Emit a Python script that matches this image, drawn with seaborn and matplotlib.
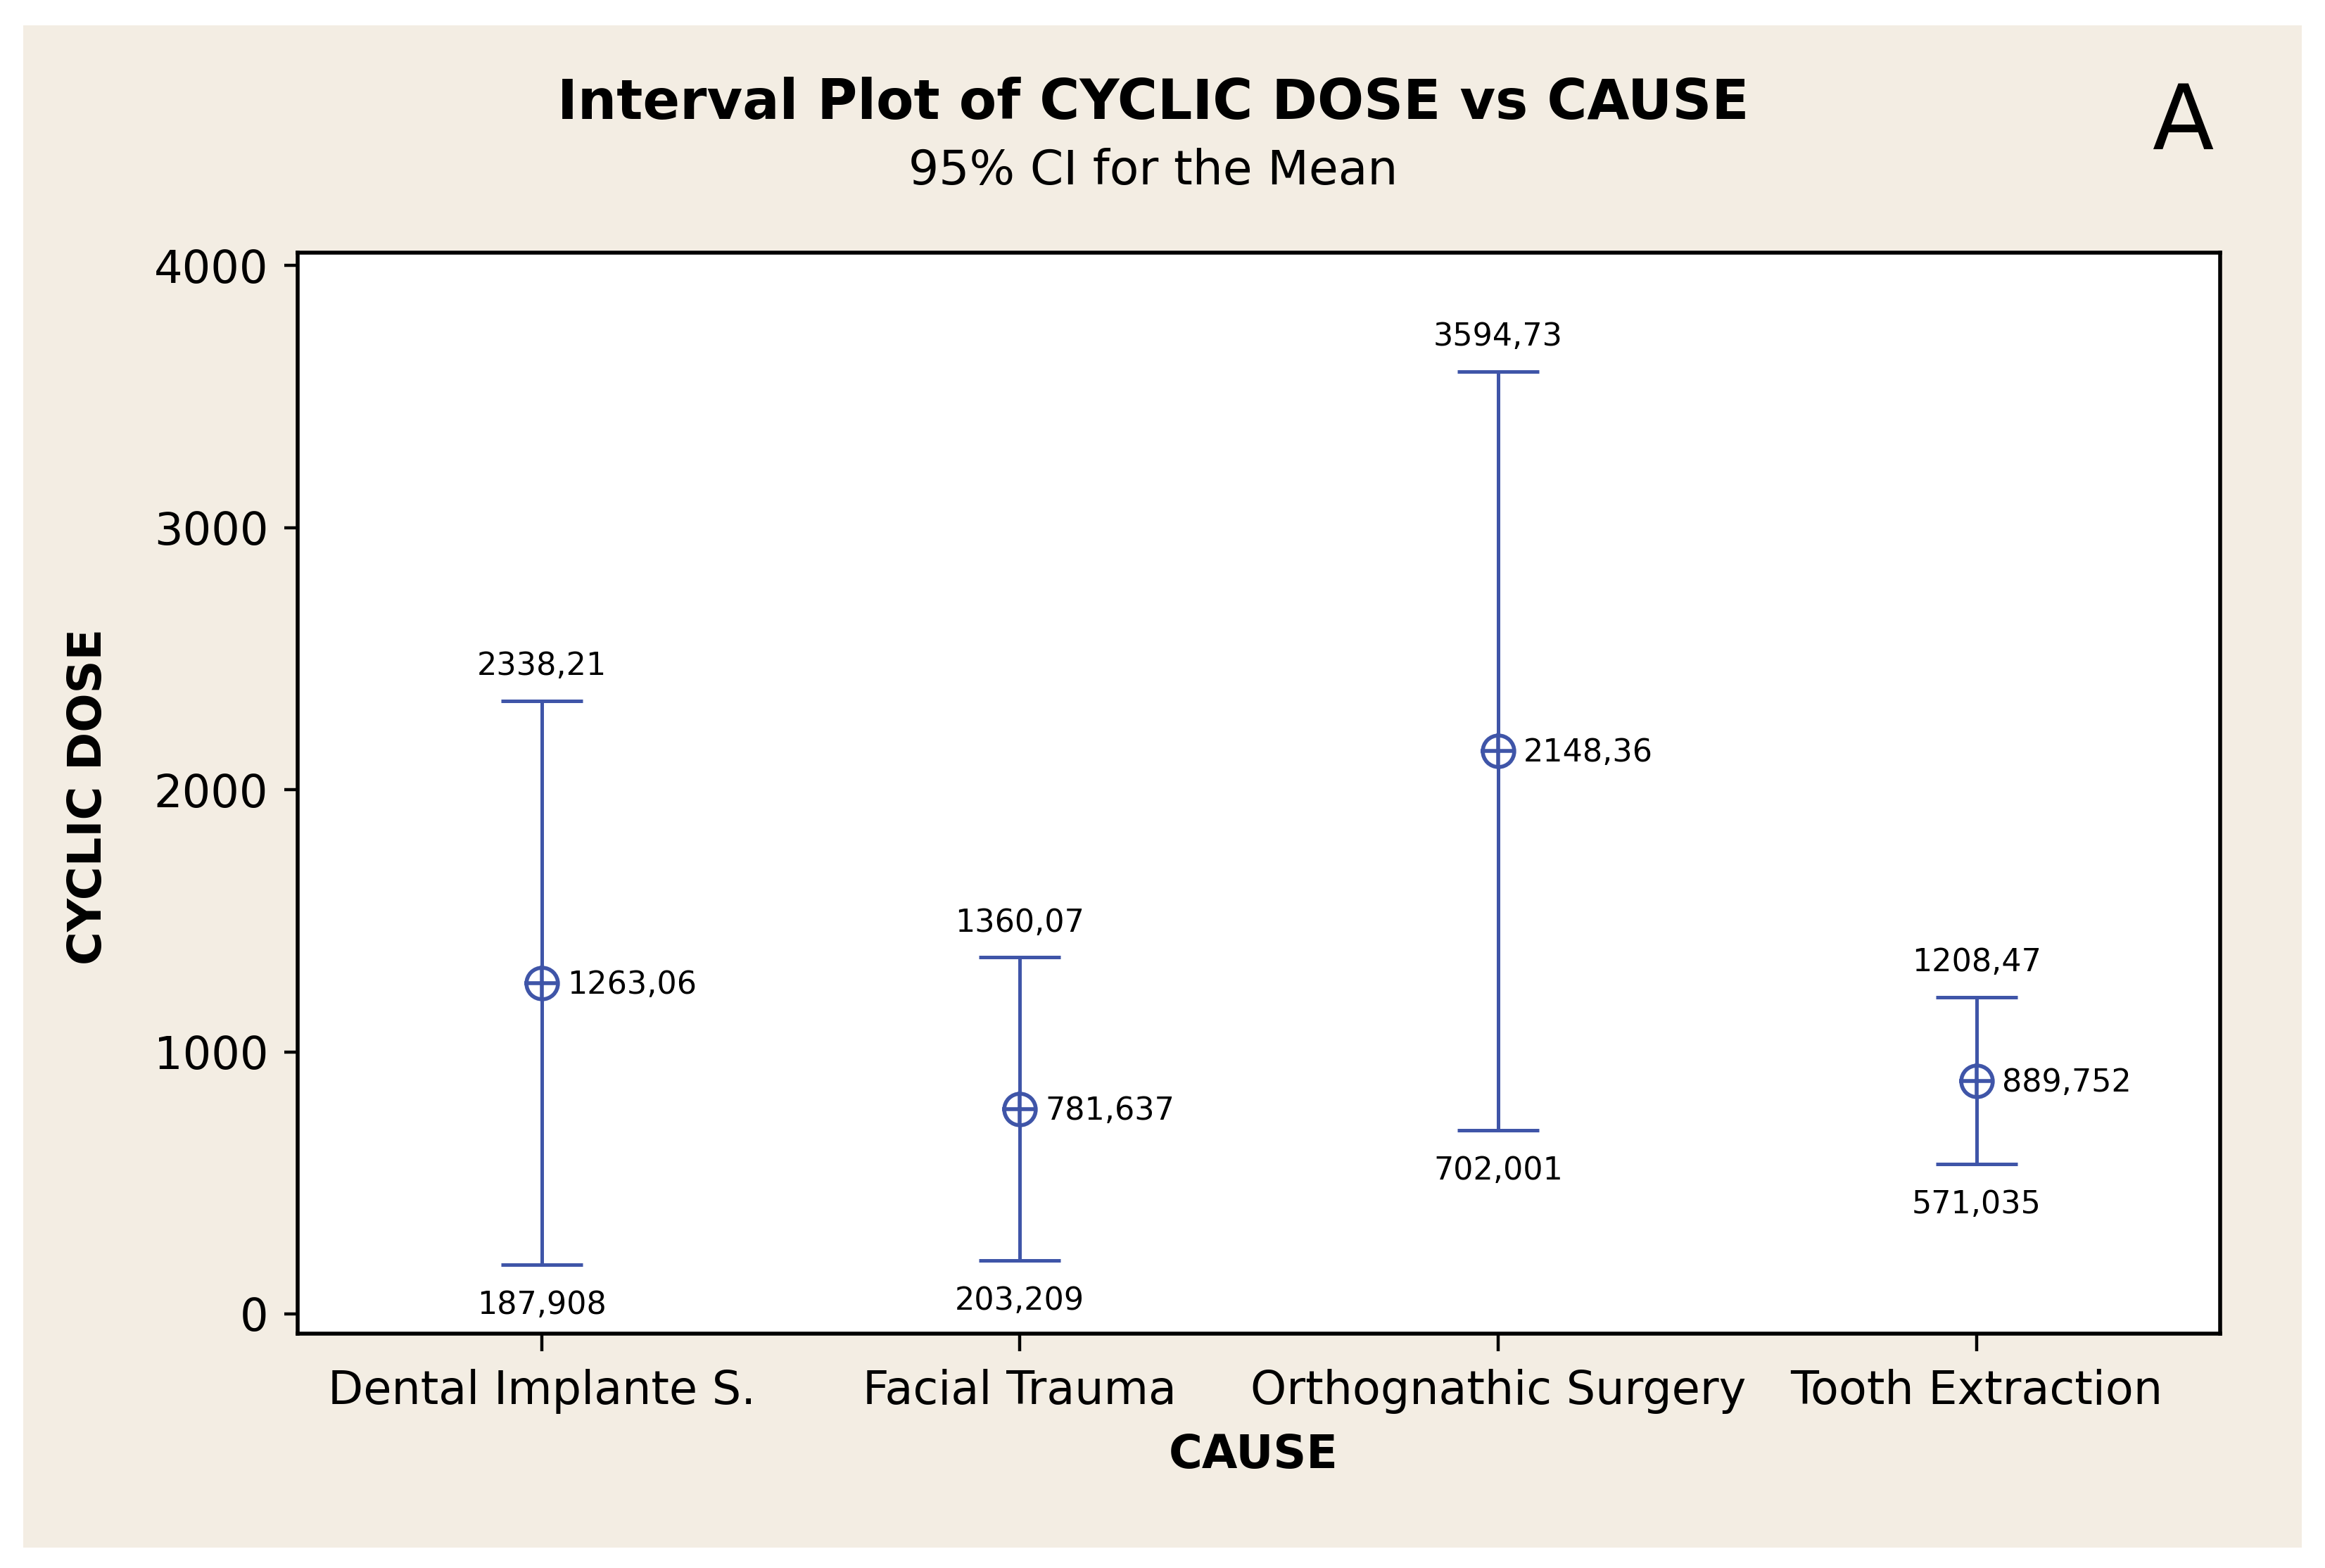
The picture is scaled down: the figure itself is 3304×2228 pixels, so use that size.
import matplotlib.pyplot as plt
import matplotlib.patches as mpatches
import seaborn as sns

# Data (95% CI for the mean)
causes = ["Dental Implante S.", "Facial Trauma", "Orthognathic Surgery", "Tooth Extraction"]
means = [1263.06, 781.637, 2148.36, 889.752]
lower = [187.908, 203.209, 702.001, 571.035]
upper = [2338.21, 1360.07, 3594.73, 1208.47]

blue = "#3F55A8"
beige = "#F3EDE3"


def fmt(v):
    return f"{v:.6g}".replace(".", ",")


sns.set_style("ticks")
plt.rcParams["font.family"] = ["DejaVu Sans"]
plt.rcParams["text.color"] = "black"

fig = plt.figure(figsize=(16.52, 11.14), dpi=200)
fig.patch.set_facecolor("white")
fig.patches.append(mpatches.Rectangle((0.010, 0.013), 0.980, 0.971,
                                      transform=fig.transFigure,
                                      facecolor=beige, edgecolor="none", zorder=-10))

ax = fig.add_axes([0.128, 0.1495, 0.827, 0.6895])
ax.set_facecolor("white")

# intervals
err_lo = [m - l for m, l in zip(means, lower)]
err_hi = [u - m for m, u in zip(means, upper)]
ax.errorbar(causes, means, yerr=[err_lo, err_hi], fmt="none", ecolor=blue,
            elinewidth=1.8, capsize=21, capthick=1.8, zorder=2)

# mean markers (circle with cross)
sns.scatterplot(x=causes, y=means, ax=ax, marker="o", s=260,
                facecolor="white", edgecolor=blue, linewidth=2.0, zorder=3)
sns.scatterplot(x=causes, y=means, ax=ax, marker="+", s=330,
                color=blue, linewidth=2.0, zorder=4)

# value labels
for c, m, lo, hi in zip(causes, means, lower, upper):
    ax.annotate(fmt(hi), (c, hi), xytext=(0, 10), textcoords="offset points",
                ha="center", va="bottom", fontsize=16, color="black")
    ax.annotate(fmt(lo), (c, lo), xytext=(0, -13), textcoords="offset points",
                ha="center", va="top", fontsize=16, color="black")
    ax.annotate(fmt(m), (c, m), xytext=(13, -1), textcoords="offset points",
                ha="left", va="center", fontsize=16, color="black")

ax.set_xlim(-0.51, 3.51)
ax.set_ylim(-75, 4050)
ax.set_yticks([0, 1000, 2000, 3000, 4000])
ax.tick_params(axis="both", direction="out", width=1.6, colors="black")
ax.tick_params(axis="y", length=7, pad=8, labelsize=23)
ax.tick_params(axis="x", length=9, pad=9, labelsize=23.5)
for sp in ax.spines.values():
    sp.set_color("black")
    sp.set_linewidth(2)
ax.set_xlabel("")
ax.set_ylabel("")

# titles and axis labels
fig.text(0.496, 0.934, "Interval Plot of CYCLIC DOSE vs CAUSE", ha="center",
         va="center", fontsize=28, fontweight="bold")
fig.text(0.496, 0.891, "95% CI for the Mean", ha="center", va="center",
         fontsize=24.5)
fig.text(0.939, 0.921, "A", ha="center", va="center", fontsize=46)
fig.text(0.539, 0.072, "CAUSE", ha="center", va="center", fontsize=23.5,
         fontweight="bold")
fig.text(0.038, 0.492, "CYCLIC DOSE", ha="center", va="center", rotation=90,
         fontsize=23.5, fontweight="bold")

fig.savefig("out.png", dpi=200, facecolor=fig.get_facecolor())
